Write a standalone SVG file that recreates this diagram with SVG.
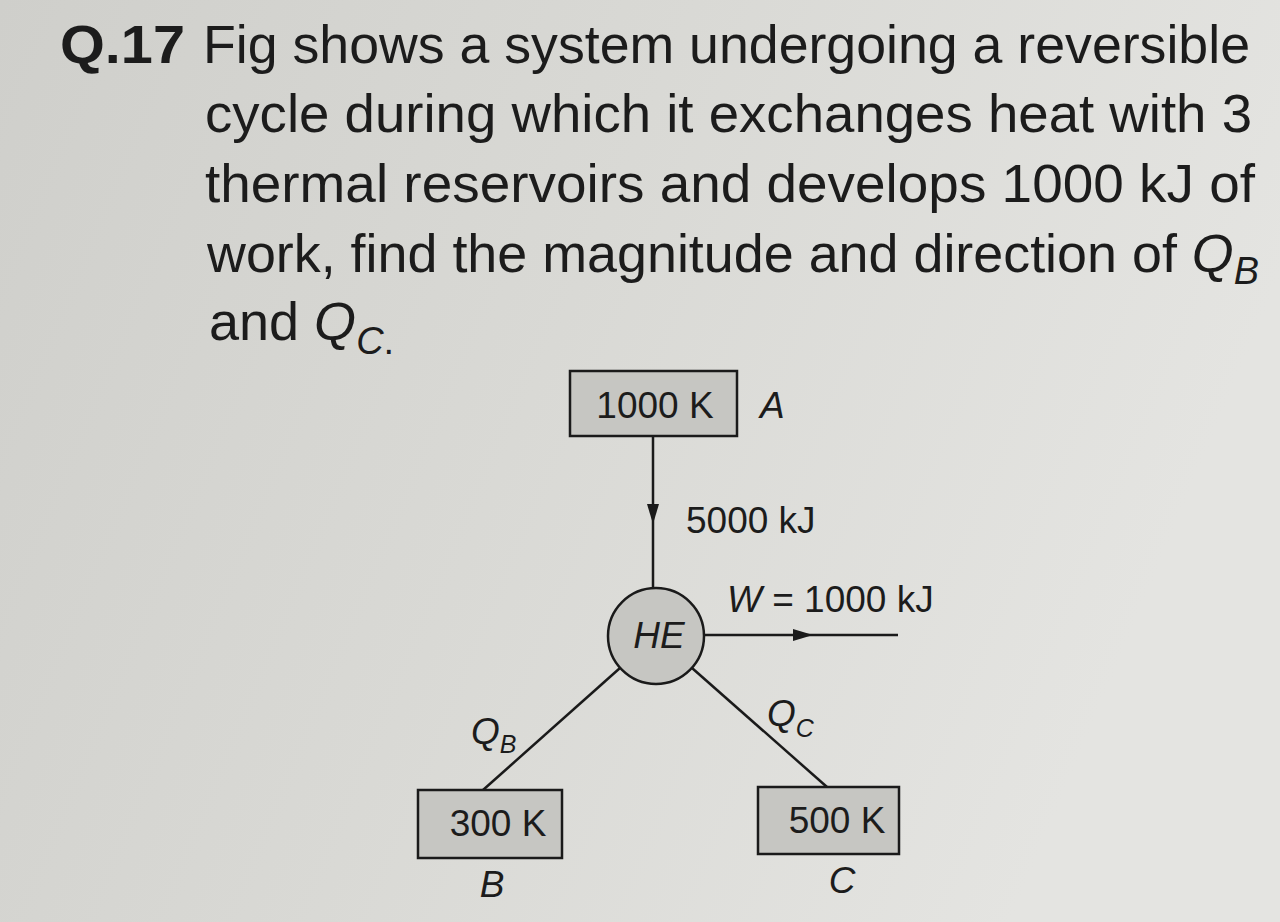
<svg xmlns="http://www.w3.org/2000/svg" width="1280" height="922" viewBox="0 0 1280 922">
<defs>
<linearGradient id="bg" x1="0" y1="0" x2="1" y2="0.3">
<stop offset="0" stop-color="#cfcfcb"/>
<stop offset="0.5" stop-color="#d9d9d5"/>
<stop offset="1" stop-color="#e4e4e1"/>
</linearGradient>
<marker id="arr" viewBox="0 0 20 12" refX="20" refY="6" markerWidth="20" markerHeight="12" markerUnits="userSpaceOnUse" orient="auto">
<path d="M0,0 L20,6 L0,12 z" fill="#1a1a1a"/>
</marker>
<style>
.q{font-family:"Liberation Sans",Arial,sans-serif;font-size:54px;fill:#1c1c1c}
.b{font-weight:bold}
.d{font-family:"Liberation Sans",Arial,sans-serif;font-size:37px;fill:#1c1c1c}
.i{font-style:italic}
.n{font-style:normal}
.sq{font-size:38px}
.sd{font-size:25px}
.box{fill:#c6c6c2;stroke:#1a1a1a;stroke-width:2.5}
.ln{fill:none;stroke:#1a1a1a;stroke-width:2.5}
</style>
</defs>
<rect width="1280" height="922" fill="url(#bg)"/>
<g id="question">
<text class="q b" x="60" y="63" textLength="125" lengthAdjust="spacingAndGlyphs">Q.17</text>
<text class="q" x="203" y="63" textLength="1047" lengthAdjust="spacingAndGlyphs">Fig shows a system undergoing a reversible</text>
<text class="q" x="205" y="132" textLength="1047" lengthAdjust="spacingAndGlyphs">cycle during which it exchanges heat with 3</text>
<text class="q" x="205" y="202" textLength="1050" lengthAdjust="spacingAndGlyphs">thermal reservoirs and develops 1000 kJ of</text>
<text class="q" x="207" y="272" textLength="1052" lengthAdjust="spacingAndGlyphs">work, find the magnitude and direction of <tspan class="i">Q</tspan><tspan class="i sq" dy="12">B</tspan></text>
<text class="q" x="209" y="340">and <tspan class="i">Q</tspan><tspan class="i sq" dy="14">C</tspan><tspan class="sq">.</tspan></text>
</g>
<g id="connectors">
<polyline class="ln" points="653,436 653,524 653,589" marker-mid="url(#arr)"/>
<polyline class="ln" points="704,635 813,635 898,635" marker-mid="url(#arr)"/>
<line class="ln" x1="620" y1="668" x2="483" y2="790"/>
<line class="ln" x1="692" y1="668" x2="827" y2="787"/>
</g>
<g id="labels">
<text class="d" x="686" y="533">5000 kJ</text>
<text class="d" x="727" y="612"><tspan class="i">W</tspan> = 1000 kJ</text>
<text class="d i" x="471" y="744">Q<tspan class="sd" dy="9">B</tspan></text>
<text class="d i" x="767" y="726">Q<tspan class="sd" dy="11">C</tspan></text>
</g>
<g id="reservoirA">
<rect class="box" x="570" y="371" width="167" height="65"/>
<text class="d" x="655" y="418" text-anchor="middle">1000 K</text>
<text class="d i" x="760" y="418">A</text>
</g>
<g id="engine">
<circle class="box" cx="656" cy="636" r="48"/>
<text class="d i" x="659" y="648" text-anchor="middle">HE</text>
</g>
<g id="reservoirB">
<rect class="box" x="418" y="790" width="144" height="68"/>
<text class="d" x="498" y="836" text-anchor="middle">300 K</text>
<text class="d i" x="492" y="897" text-anchor="middle">B</text>
</g>
<g id="reservoirC">
<rect class="box" x="758" y="787" width="141" height="67"/>
<text class="d" x="837" y="833" text-anchor="middle">500 K</text>
<text class="d i" x="842" y="893" text-anchor="middle">C</text>
</g>
</svg>
